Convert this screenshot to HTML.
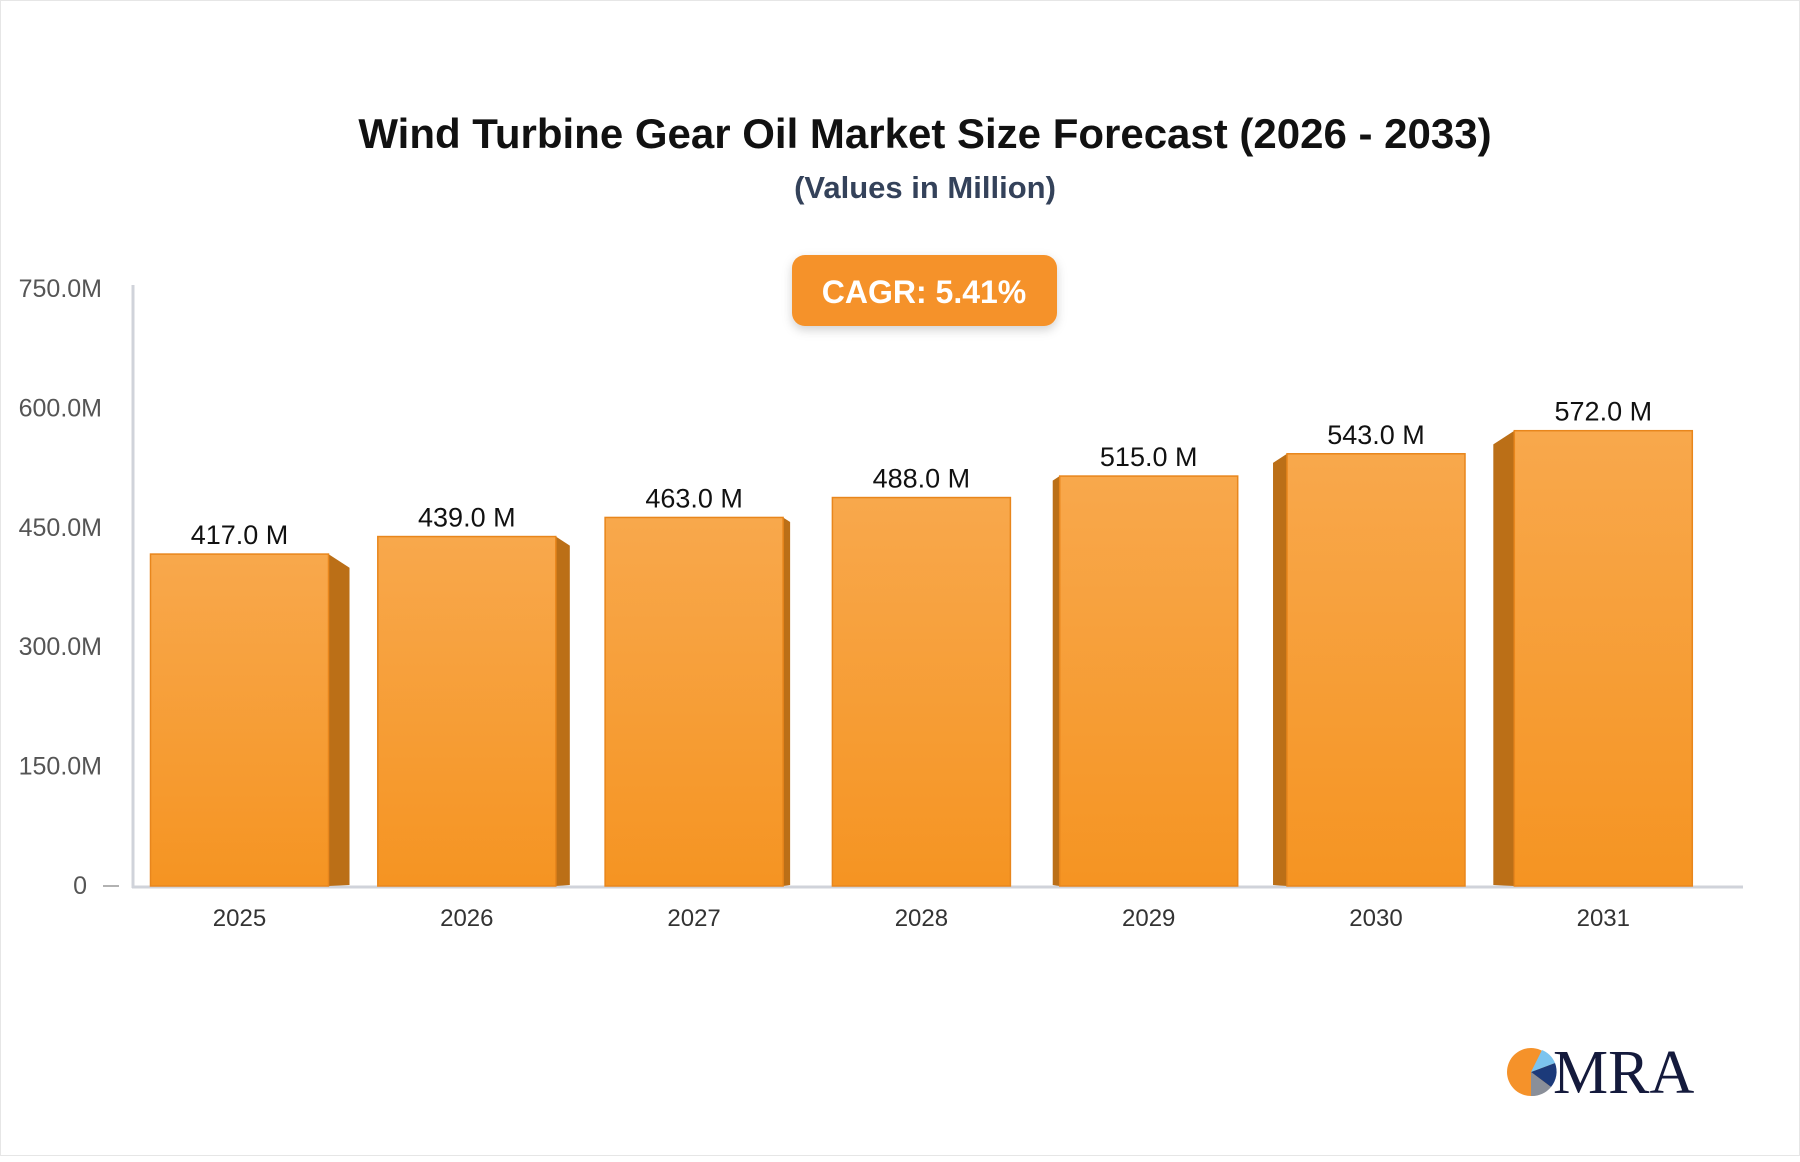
<!DOCTYPE html>
<html><head><meta charset="utf-8">
<style>
html,body{margin:0;padding:0;background:#fff}
body{width:1800px;height:1156px;overflow:hidden;font-family:"Liberation Sans",sans-serif}
#wrap{position:relative;width:1798px;height:1154px;border:1px solid #e6e6e6}
</style></head>
<body>
<div id="wrap">
<svg id="chart" width="1800" height="1156" xmlns="http://www.w3.org/2000/svg">
<defs>
<linearGradient id="barGrad" x1="0" y1="0" x2="0" y2="1">
<stop offset="0" stop-color="#f8a84c"/><stop offset="1" stop-color="#f59422"/>
</linearGradient>
<filter id="shadow" x="-20%" y="-30%" width="140%" height="170%"><feDropShadow dx="0" dy="4" stdDeviation="5" flood-color="#000" flood-opacity="0.18"/></filter>
</defs>
<text x="924" y="147" text-anchor="middle" font-size="42" font-weight="bold" fill="#111">Wind Turbine Gear Oil Market Size Forecast (2026 - 2033)</text>
<text x="924" y="197" text-anchor="middle" font-size="31" font-weight="bold" fill="#34425a">(Values in Million)</text>
<g filter="url(#shadow)">
<rect x="791" y="254" width="265" height="71" rx="13" fill="#f5922a"/>
</g>
<text x="923" y="302" text-anchor="middle" font-size="32" font-weight="bold" fill="#fff">CAGR: 5.41%</text>
<g id="axes"></g>
<g id="bars"></g>
<g>
<circle cx="1530" cy="1071" r="24" fill="#f5922a"/>
<path d="M1530 1071 L1554 1062 A24 24 0 0 1 1550 1086 Z" fill="#1c3a7a"/>
<path d="M1530 1071 L1541 1049 A24 24 0 0 1 1554 1062 Z" fill="#7cc4ef"/>
<path d="M1530 1071 L1550 1086 A24 24 0 0 1 1530 1095 Z" fill="#8a8f99"/>
<text x="1552" y="1092" font-family="Liberation Serif,serif" font-size="62" fill="#141a3c">MRA</text>
</g>
</svg>
</div>
<script>
const categories = ["2025","2026","2027","2028","2029","2030","2031"];
const values = [417, 439, 463, 488, 515, 543, 572];
const valueLabels = ["417.0 M","439.0 M","463.0 M","488.0 M","515.0 M","543.0 M","572.0 M"];
const yTicks = [0,150,300,450,600,750];
const yTickLabels = ["0","150.0M","300.0M","450.0M","600.0M","750.0M"];

const NS="http://www.w3.org/2000/svg";
const baseY=885, topY=288, yMax=750;
const band=227.3, barW=178, centerX=921;
function yScale(v){return baseY-(v/yMax)*(baseY-topY);}
function mk(tag,attrs,parent){const e=document.createElementNS(NS,tag);for(const k in attrs)e.setAttribute(k,attrs[k]);parent.appendChild(e);return e;}

const axes=document.getElementById('axes');
const yAxis=mk('line',{x1:132,y1:topY-4,x2:132,y2:baseY+2,stroke:'#d0d3da','stroke-width':3},axes);


const xAxis=mk('line',{x1:131,y1:baseY+1,x2:1742,y2:baseY+1,stroke:'#d0d3da','stroke-width':3},axes);


yTicks.forEach((t,i)=>{
  const y=yScale(t);
  const tx=mk('text',{x:t===0?86:101,y:y+8,'text-anchor':'end','font-size':25,fill:'#555'},axes);
  tx.textContent=yTickLabels[i];
  
  
  if(t===0){
    const d=mk('line',{x1:102,y1:y,x2:118,y2:y,stroke:'#999','stroke-width':1.5},axes);
    
    
  }
});

const bars=document.getElementById('bars');
categories.forEach((c,i)=>{
  const cx=238.5+band*i;
  const left=cx-barW/2, right=cx+barW/2;
  const yt=yScale(values[i]);
  const g=mk('g',{},bars);
  
  
  const off=(cx-centerX)/band;
  const depth=Math.abs(off)*7;
  const slope=depth*0.65;
  if(off<0&&depth>0){
    mk('polygon',{points:`${right},${yt} ${right+depth},${yt+slope} ${right+depth},${baseY-1} ${right},${baseY}`,fill:'#bb6f17'},g);
  } else if(off>0&&depth>0){
    mk('polygon',{points:`${left},${yt} ${left-depth},${yt+slope} ${left-depth},${baseY-1} ${left},${baseY}`,fill:'#bb6f17'},g);
  }
  mk('rect',{x:left,y:yt,width:barW,height:baseY-yt,fill:'url(#barGrad)',stroke:'#e8861c','stroke-width':1.5},g);
  const vl=mk('text',{x:cx,y:yt-10,'text-anchor':'middle','font-size':27,fill:'#111'},bars);
  vl.textContent=valueLabels[i];
  
  
  const xl=mk('text',{x:cx,y:925,'text-anchor':'middle','font-size':24,fill:'#333'},bars);
  xl.textContent=c;
  
  
});
</script>
</body></html>
